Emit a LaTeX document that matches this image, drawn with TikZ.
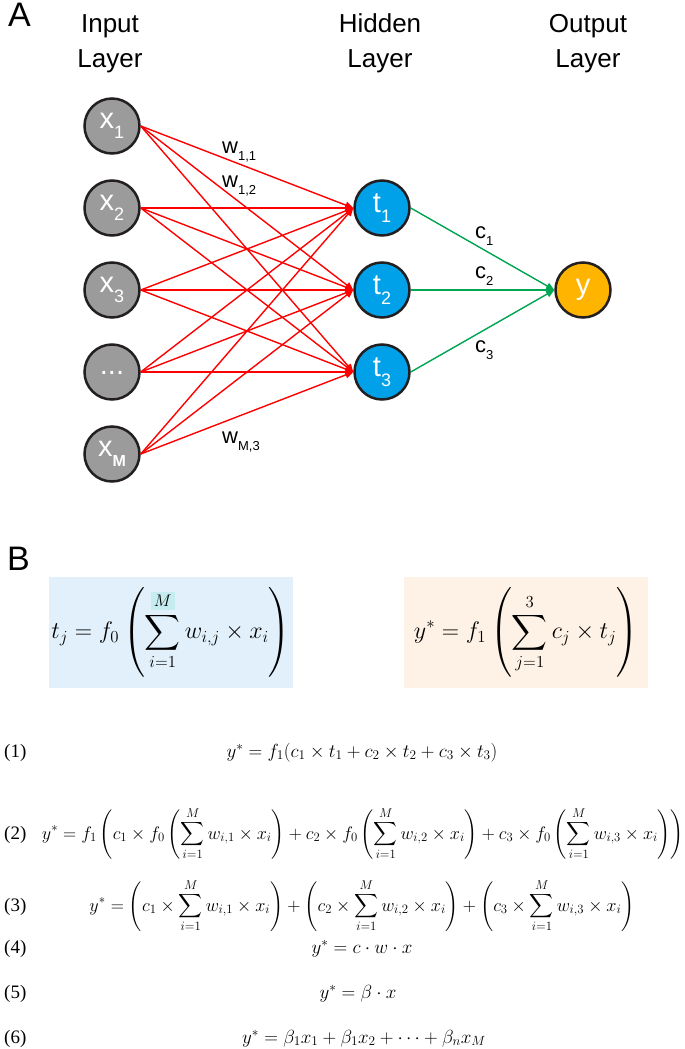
\RequirePackage{fix-cm}
\documentclass[tikz,border=0pt]{standalone}
\usepackage{amsmath}
\usepackage{graphicx}
\usepackage[no-math]{fontspec}
\newfontfamily\labfont{Liberation Sans}
\newfontfamily\serfont{Liberation Serif}
\usetikzlibrary{arrows.meta}
\definecolor{edgeblack}{RGB}{35,31,32}
\definecolor{nodegray}{RGB}{155,155,155}
\definecolor{hidblue}{RGB}{0,161,233}
\definecolor{outorange}{RGB}{255,181,0}
\definecolor{wred}{RGB}{255,0,0}
\definecolor{wgreen}{RGB}{0,166,81}
\definecolor{bluebox}{RGB}{226,240,251}
\definecolor{orangebox}{RGB}{253,242,229}
\definecolor{mhl}{RGB}{197,236,238}
\newcommand{\nodelab}[3][18]{#2\raisebox{-10pt}{\fontsize{#1}{#1}\selectfont #3}}
\newcommand{\wsub}[2]{#1\raisebox{-7pt}{\fontsize{13}{13}\selectfont #2}}
\tikzset{
  neuron/.style={circle, draw=edgeblack, line width=2.5pt, minimum size=55pt, inner sep=0pt, text=white, font=\labfont\fontsize{29}{29}\selectfont},
  inp/.style={neuron, fill=nodegray},
  hid/.style={neuron, fill=hidblue},
  outn/.style={neuron, fill=outorange},
  wire/.style={draw=wred, line width=1.4pt, -{Triangle[length=8pt,width=7pt]}},
  gwire/.style={draw=wgreen, line width=1.4pt, -{Triangle[length=8pt,width=7pt]}},
  title/.style={anchor=base, inner sep=0pt, font=\labfont\fontsize{26}{26}\selectfont},
  panel/.style={anchor=base west, inner sep=0pt, font=\labfont\fontsize{34}{34}\selectfont},
  wlab/.style={anchor=base west, inner sep=0pt, font=\labfont\fontsize{22}{22}\selectfont},
  eq/.style={anchor=base, inner sep=0pt, font=\fontsize{19}{23}\selectfont},
  eqnum/.style={anchor=base west, inner sep=0pt, font=\serfont\fontsize{19}{23}\selectfont},
  formbox/.style={inner sep=0pt, minimum width=244pt, minimum height=111pt, font=\fontsize{24}{28}\selectfont},
}
\begin{document}
\begin{tikzpicture}[x=1pt,y=-1pt]
\useasboundingbox (0,0) rectangle (685,1049);
% panel A
\node[panel] (A) at (8,27) {A};
\node[title] (tin1) at (110,33) {Input};
\node[title] (tin2) at (110,67) {Layer};
\node[title] (thd1) at (380,33) {Hidden};
\node[title] (thd2) at (380,67) {Layer};
\node[title] (tout1) at (588,33) {Output};
\node[title] (tout2) at (588,67) {Layer};

\node[inp] (x1) at (112,126) {\nodelab{x}{1}};
\node[inp] (x2) at (112,208) {\nodelab{x}{2}};
\node[inp] (x3) at (112,290) {\nodelab{x}{3}};
\node[inp] (xd) at (112,372) {\raisebox{-4pt}{...}};
\node[inp] (xM) at (112,454) {\nodelab[16]{x}{\bfseries M}};

\node[hid] (t1) at (382,208) {\nodelab{t}{1}};
\node[hid] (t2) at (382,290) {\nodelab{t}{2}};
\node[hid] (t3) at (382,372) {\nodelab{t}{3}};
\node[outn] (y) at (583,290) {y};

\foreach \i in {x1,x2,x3,xd,xM}{
  \foreach \j in {t1,t2,t3}{
    \draw[wire] (\i.east) -- (\j.west);
  }
}
\foreach \j in {t1,t2,t3}{
  \draw[gwire] (\j.east) -- (y.west);
}

\node[wlab] (w11) at (222,153) {\wsub{w}{1,1}};
\node[wlab] (w12) at (222,187) {\wsub{w}{1,2}};
\node[wlab] (wM3) at (222,443) {\wsub{w}{M,3}};
\node[wlab] (c1) at (475,238) {\wsub{c}{1}};
\node[wlab] (c2) at (475,278) {\wsub{c}{2}};
\node[wlab] (c3) at (475,352) {\wsub{c}{3}};

% panel B
\node[panel] (B) at (7,570) {B};
\node[formbox, fill=bluebox] (box1) at (171,632.5)
  {$\displaystyle t_j = f_0\left(\sum_{i=1}^{\setlength{\fboxsep}{3pt}\colorbox{mhl}{$\scriptstyle M$}} w_{i,j}\times x_i\right)$};
\node[formbox, fill=orangebox] (box2) at (526,632.5)
  {$\displaystyle y^* = f_1\left(\sum_{j=1}^{3} c_j\times t_j\right)$};

\node[eqnum] (n1) at (4,757) {(1)};
\node[eq] (e1) at (362,757) {$y^* = f_1(c_1\times t_1 + c_2\times t_2 + c_3\times t_3)$};
\node[eqnum] (n2) at (4,839) {(2)};
\node[eq] (e2) at (363,839) {\resizebox{642pt}{!}{$\displaystyle y^* = f_1\left(c_1\times f_0\left(\sum_{i=1}^{M} w_{i,1}\times x_i\right) + c_2\times f_0\left(\sum_{i=1}^{M} w_{i,2}\times x_i\right) + c_3\times f_0\left(\sum_{i=1}^{M} w_{i,3}\times x_i\right)\right)$}};
\node[eqnum] (n3) at (4,911) {(3)};
\node[eq] (e3) at (362,911) {\resizebox{545pt}{!}{$\displaystyle y^* = \left(c_1\times\sum_{i=1}^{M} w_{i,1}\times x_i\right) + \left(c_2\times\sum_{i=1}^{M} w_{i,2}\times x_i\right) + \left(c_3\times\sum_{i=1}^{M} w_{i,3}\times x_i\right)$}};
\node[eqnum] (n4) at (4,953) {(4)};
\node[eq] (e4) at (362,953) {$y^* = c\cdot w\cdot x$};
\node[eqnum] (n5) at (4,998) {(5)};
\node[eq] (e5) at (358,998) {$y^* = \beta\cdot x$};
\node[eqnum] (n6) at (4,1043) {(6)};
\node[eq] (e6) at (364,1043) {$y^* = \beta_1 x_1 + \beta_1 x_2 + \cdots + \beta_n x_M$};
\end{tikzpicture}
\end{document}
